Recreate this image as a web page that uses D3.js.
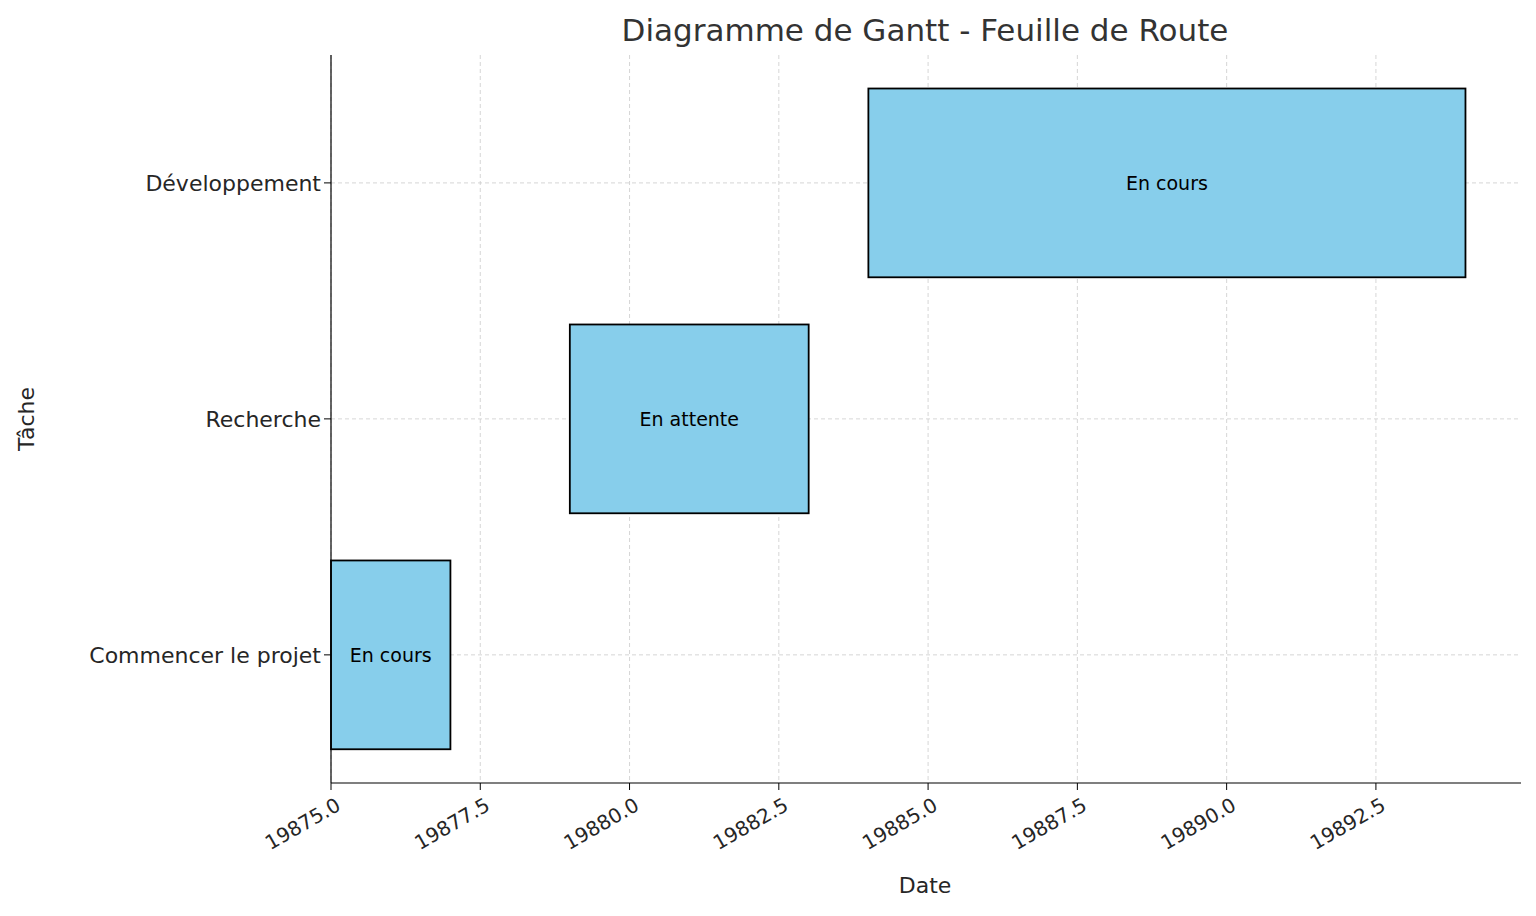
<!DOCTYPE html>
<html><head><meta charset="utf-8">
<script src="https://cdn.jsdelivr.net/npm/d3@7"></script>
<style>body{margin:0;background:#fff}text{font-family:"DejaVu Sans",sans-serif}</style>
</head><body><svg id="c" width="1536" height="916"></svg>
<script>
const tasks = ["Commencer le projet","Recherche","Développement"];
const starts = [19875,19879,19884];
const ends = [19877,19883,19894];
const statuses = ["En cours","En attente","En cours"];
const xTicks = [19875,19877.5,19880,19882.5,19885,19887.5,19890,19892.5];

const svg = d3.select("#c");
const L=331,R=1521,T=55,B=783;
const x = d3.scaleLinear().domain([19875,19894.93]).range([L,R]);
const y = d3.scaleLinear().domain([-0.543,2.542]).range([B,T]);
const ink="#262626";

// grid
svg.append("g").selectAll("line").data(xTicks).join("line")
 .attr("x1",d=>x(d)).attr("x2",d=>x(d)).attr("y1",T).attr("y2",B)
 .attr("stroke","#ccc").attr("stroke-dasharray","4,3").attr("stroke-width",0.8);
svg.append("g").selectAll("line").data(tasks).join("line")
 .attr("x1",L).attr("x2",R).attr("y1",(d,i)=>y(i)).attr("y2",(d,i)=>y(i))
 .attr("stroke","#ccc").attr("stroke-dasharray","4,3").attr("stroke-width",0.8);

// bars
svg.append("g").selectAll("rect").data(tasks).join("rect")
 .attr("x",(d,i)=>x(starts[i])).attr("width",(d,i)=>x(ends[i])-x(starts[i]))
 .attr("y",(d,i)=>y(i+0.4)).attr("height",(d,i)=>y(i-0.4)-y(i+0.4))
 .attr("fill","#87ceeb").attr("stroke","#000").attr("stroke-width",1.8);
svg.append("g").selectAll("text").data(tasks).join("text")
 .attr("x",(d,i)=>x((starts[i]+ends[i])/2)).attr("y",(d,i)=>y(i)).attr("dy","0.35em")
 .attr("text-anchor","middle").attr("font-size",19.5*0.93).attr("fill","#000")
 .style("font-size","19px").text((d,i)=>statuses[i]);

// spines
svg.append("line").attr("x1",L).attr("x2",L).attr("y1",T).attr("y2",B).attr("stroke","#000").attr("stroke-width",1.2);
svg.append("line").attr("x1",L).attr("x2",R).attr("y1",B).attr("y2",B).attr("stroke","#000").attr("stroke-width",1.2);

// x ticks
const xt=svg.append("g").selectAll("g").data(xTicks).join("g").attr("transform",d=>`translate(${x(d)},${B})`);
xt.append("line").attr("y2",7).attr("stroke","#000");
xt.append("text").attr("transform","translate(4,14) rotate(-30)").attr("text-anchor","end").attr("dy","0.7em")
 .attr("fill",ink).style("font-size","20px").text(d=>d.toFixed(1));
// y ticks
const yt=svg.append("g").selectAll("g").data(tasks).join("g").attr("transform",(d,i)=>`translate(${L},${y(i)})`);
yt.append("line").attr("x2",-7).attr("stroke","#000");
yt.append("text").attr("x",-10).attr("dy","0.35em").attr("text-anchor","end").attr("fill",ink)
 .style("font-size","22px").text(d=>d);

svg.append("text").attr("x",925).attr("y",893).attr("text-anchor","middle").attr("fill",ink).style("font-size","22px").text("Date");
svg.append("text").attr("transform","translate(34,419) rotate(-90)").attr("text-anchor","middle").attr("fill",ink).style("font-size","22px").text("Tâche");
svg.append("text").attr("x",925).attr("y",41).attr("text-anchor","middle").attr("fill","#333").style("font-size","31px").text("Diagramme de Gantt - Feuille de Route");
</script></body></html>
